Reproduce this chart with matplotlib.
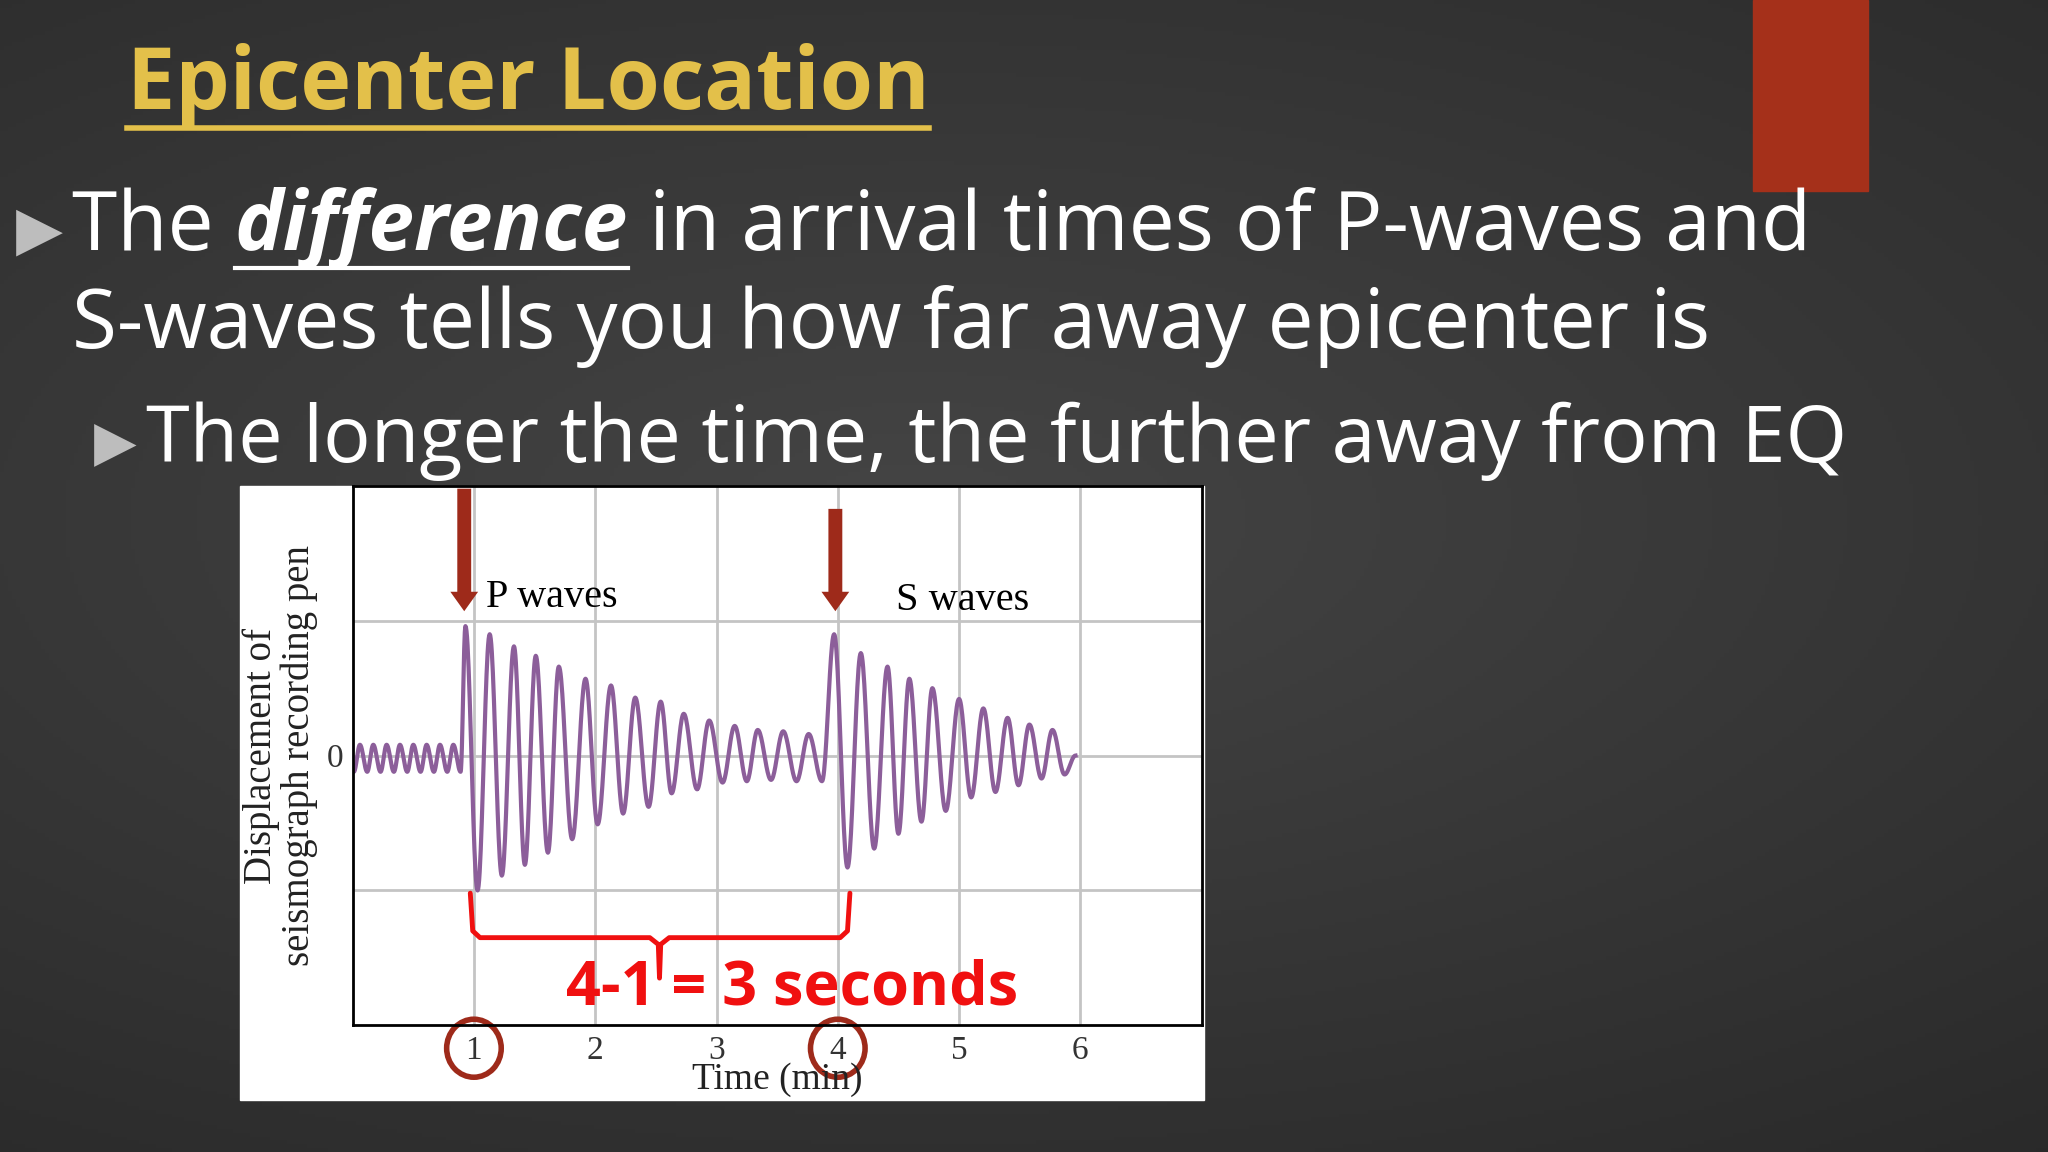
import numpy as np
import matplotlib
matplotlib.use("Agg")
import matplotlib.pyplot as plt
from matplotlib.patches import Ellipse, Rectangle

# ---- data ----
title = "Epicenter Location"
line1 = ["The ", "difference", " in arrival times of P-waves and"]
line2 = "S-waves tells you how far away epicenter is"
line3 = "The longer the time, the further away from EQ"

x_ticks = [1, 2, 3, 4, 5, 6]
circled_ticks = [1, 4]

pre_peak_t = [0.06, 0.17, 0.28, 0.39, 0.50, 0.61, 0.72, 0.83]
pre_trough_t = [0.01, 0.12, 0.23, 0.34, 0.45, 0.56, 0.67, 0.78, 0.89]
pre_peak_v = 0.08
pre_trough_v = -0.12

p_peak_t = [0.93, 1.13, 1.33, 1.51, 1.70, 1.92, 2.13, 2.33, 2.54, 2.73, 2.94, 3.15, 3.34, 3.55, 3.76]
p_peak_v = [0.96, 0.90, 0.81, 0.74, 0.66, 0.57, 0.52, 0.43, 0.40, 0.31, 0.26, 0.22, 0.19, 0.18, 0.16]
p_trough_t = [1.03, 1.23, 1.42, 1.61, 1.81, 2.02, 2.23, 2.44, 2.63, 2.84, 3.05, 3.25, 3.45, 3.66, 3.87]
p_trough_v = [-1.0, -0.89, -0.81, -0.72, -0.62, -0.51, -0.43, -0.38, -0.28, -0.25, -0.20, -0.19, -0.18, -0.19, -0.19]

s_peak_t = [3.97, 4.19, 4.41, 4.59, 4.78, 5.00, 5.20, 5.40, 5.58, 5.77]
s_peak_v = [0.90, 0.76, 0.66, 0.57, 0.50, 0.42, 0.35, 0.28, 0.23, 0.19]
s_trough_t = [4.08, 4.30, 4.50, 4.69, 4.89, 5.10, 5.30, 5.49, 5.68, 5.87]
s_trough_v = [-0.83, -0.69, -0.58, -0.49, -0.41, -0.31, -0.27, -0.22, -0.17, -0.14]
end_t, end_v = 5.96, 0.0

p_arrival, s_arrival = 0.92, 3.98

# ---- build the trace from the extrema ----
ext = [(t, pre_peak_v) for t in pre_peak_t] + [(t, pre_trough_v) for t in pre_trough_t]
ext += list(zip(p_peak_t, p_peak_v)) + list(zip(p_trough_t, p_trough_v))
ext += list(zip(s_peak_t, s_peak_v)) + list(zip(s_trough_t, s_trough_v))
ext += [(end_t, end_v)]
ext.sort()
tt, vv = [], []
s = np.linspace(0, 1, 24)
for (t0, v0), (t1, v1) in zip(ext[:-1], ext[1:]):
  tt.extend(t0 + (t1 - t0) * s)
  vv.extend(v0 + (v1 - v0) * (1 - np.cos(np.pi * s)) / 2)

W, H = 2048, 1152
fig = plt.figure(figsize=(W / 100, H / 100), dpi=100)

# background with soft gradient
bg = fig.add_axes([0, 0, 1, 1])
yy, xx = np.mgrid[0:1:300j, 0:1:500j]
r = np.sqrt(((xx - 0.45) / 1.0) ** 2 + ((yy - 0.45) / 0.8) ** 2)
img = np.clip(0.27 - 0.12 * r, 0.13, 0.3)
bg.imshow(np.dstack([img] * 3), extent=[0, 1, 0, 1], aspect="auto", origin="upper")
bg.set_xlim(0, 1)
bg.set_ylim(0, 1)
bg.axis("off")

# red rectangle top right
bg.add_patch(Rectangle((1342 / 1568, 1 - 146 / 882), 88 / 1568, 146 / 882, color="#a5301a"))

# title
gold = "#e3c04a"
tt_txt = bg.text(97 / 1568, 1 - 66 / 882, title, color=gold, fontsize=62, fontweight="bold",
                 family="Open Sans", va="center", ha="left")
fig.canvas.draw()
rend = fig.canvas.get_renderer()
inv = bg.transData.inverted()
bb = tt_txt.get_window_extent(rend).transformed(inv)
bg.plot([bb.x0, bb.x1], [1 - 98 / 882, 1 - 98 / 882], color=gold, lw=4)

body_fs = 59
tri = "#bdbdbd"
bg.text(12 / 1568, 1 - 178 / 882, "\u25B6", color=tri, fontsize=44, va="center", family="DejaVu Sans")
x = 55 / 1568
y1 = 1 - 175 / 882
for i, part in enumerate(line1):
  kw = dict(fontweight="bold", style="italic") if i == 1 else {}
  t = bg.text(x, y1, part, color="white", fontsize=body_fs, va="center", family="Open Sans", **kw)
  fig.canvas.draw()
  b = t.get_window_extent(rend).transformed(inv)
  if i == 1:
    bg.plot([b.x0, b.x1], [1 - 205 / 882] * 2, color="white", lw=3)
  x = b.x1
bg.text(55 / 1568, 1 - 250 / 882, line2, color="white", fontsize=body_fs, va="center", family="Open Sans")
bg.text(72 / 1568, 1 - 341 / 882, "\u25B6", color=tri, fontsize=40, va="center", family="DejaVu Sans")
bg.text(112 / 1568, 1 - 338 / 882, line3, color="white", fontsize=57, va="center", family="Open Sans")

# white card
bg.add_patch(Rectangle((184 / 1568, 1 - 842 / 882), 738 / 1568, 470 / 882, color="white"))

# seismograph
serif = "Liberation Serif"
ax = fig.add_axes([270 / 1568, 1 - 785 / 882, 650 / 1568, 413 / 882])
ax.set_xlim(0, 7)
ax.set_ylim(-2, 2)
for xv in x_ticks:
  ax.axvline(xv, color="#c4c4c4", lw=2, zorder=0)
for yv in [-1, 0, 1]:
  ax.axhline(yv, color="#c4c4c4", lw=2, zorder=0)
ax.plot(tt, vv, color="#8c5e9a", lw=3, zorder=2)
for sp in ax.spines.values():
  sp.set_linewidth(2)
ax.tick_params(length=0, labelsize=24, pad=7)
ax.set_xticks(x_ticks)
ax.set_xticklabels([str(v) for v in x_ticks], family=serif, color="#333333")
ax.set_yticks([0])
ax.set_yticklabels(["0"], family=serif, color="#333333")
ax.set_xlabel("Time (min)", family=serif, fontsize=27, labelpad=-2, color="#222222")
ax.set_ylabel("Displacement of\nseismograph recording pen", family=serif, fontsize=28,
              labelpad=6, color="#222222", linespacing=1.0)

arrow_c = "#9e2a1a"
for xa, ytop in [(p_arrival, 2.0), (s_arrival, 1.85)]:
  ax.annotate("", xy=(xa, 1.05), xytext=(xa, ytop),
              arrowprops=dict(arrowstyle="simple,head_width=2.0,head_length=1.4,tail_width=1.0",
                              color=arrow_c, lw=0), annotation_clip=False)
ax.text(1.1, 1.17, "P waves", family=serif, fontsize=29, va="center")
ax.text(4.48, 1.15, "S waves", family=serif, fontsize=29, va="center")

# brace
red = "#f01010"
bx = [0.97, 0.99, 1.05, 2.45, 2.52, 2.53, 2.54, 2.61, 4.02, 4.08, 4.1]
by = [-1.02, -1.3, -1.35, -1.35, -1.4, -1.65, -1.4, -1.35, -1.35, -1.3, -1.02]
ax.plot(bx, by, color=red, lw=3.5, clip_on=False, solid_capstyle="round")
ax.text(3.62, -1.73, "4-1 = 3 seconds", color=red, fontsize=44, fontweight="bold",
        family="Open Sans", ha="center", va="center")

for c in circled_ticks:
  ax.add_patch(Ellipse((c, -2.17), 0.45, 0.43, fill=False, ec=arrow_c, lw=4, clip_on=False))

fig.savefig("out.png", dpi=100)
